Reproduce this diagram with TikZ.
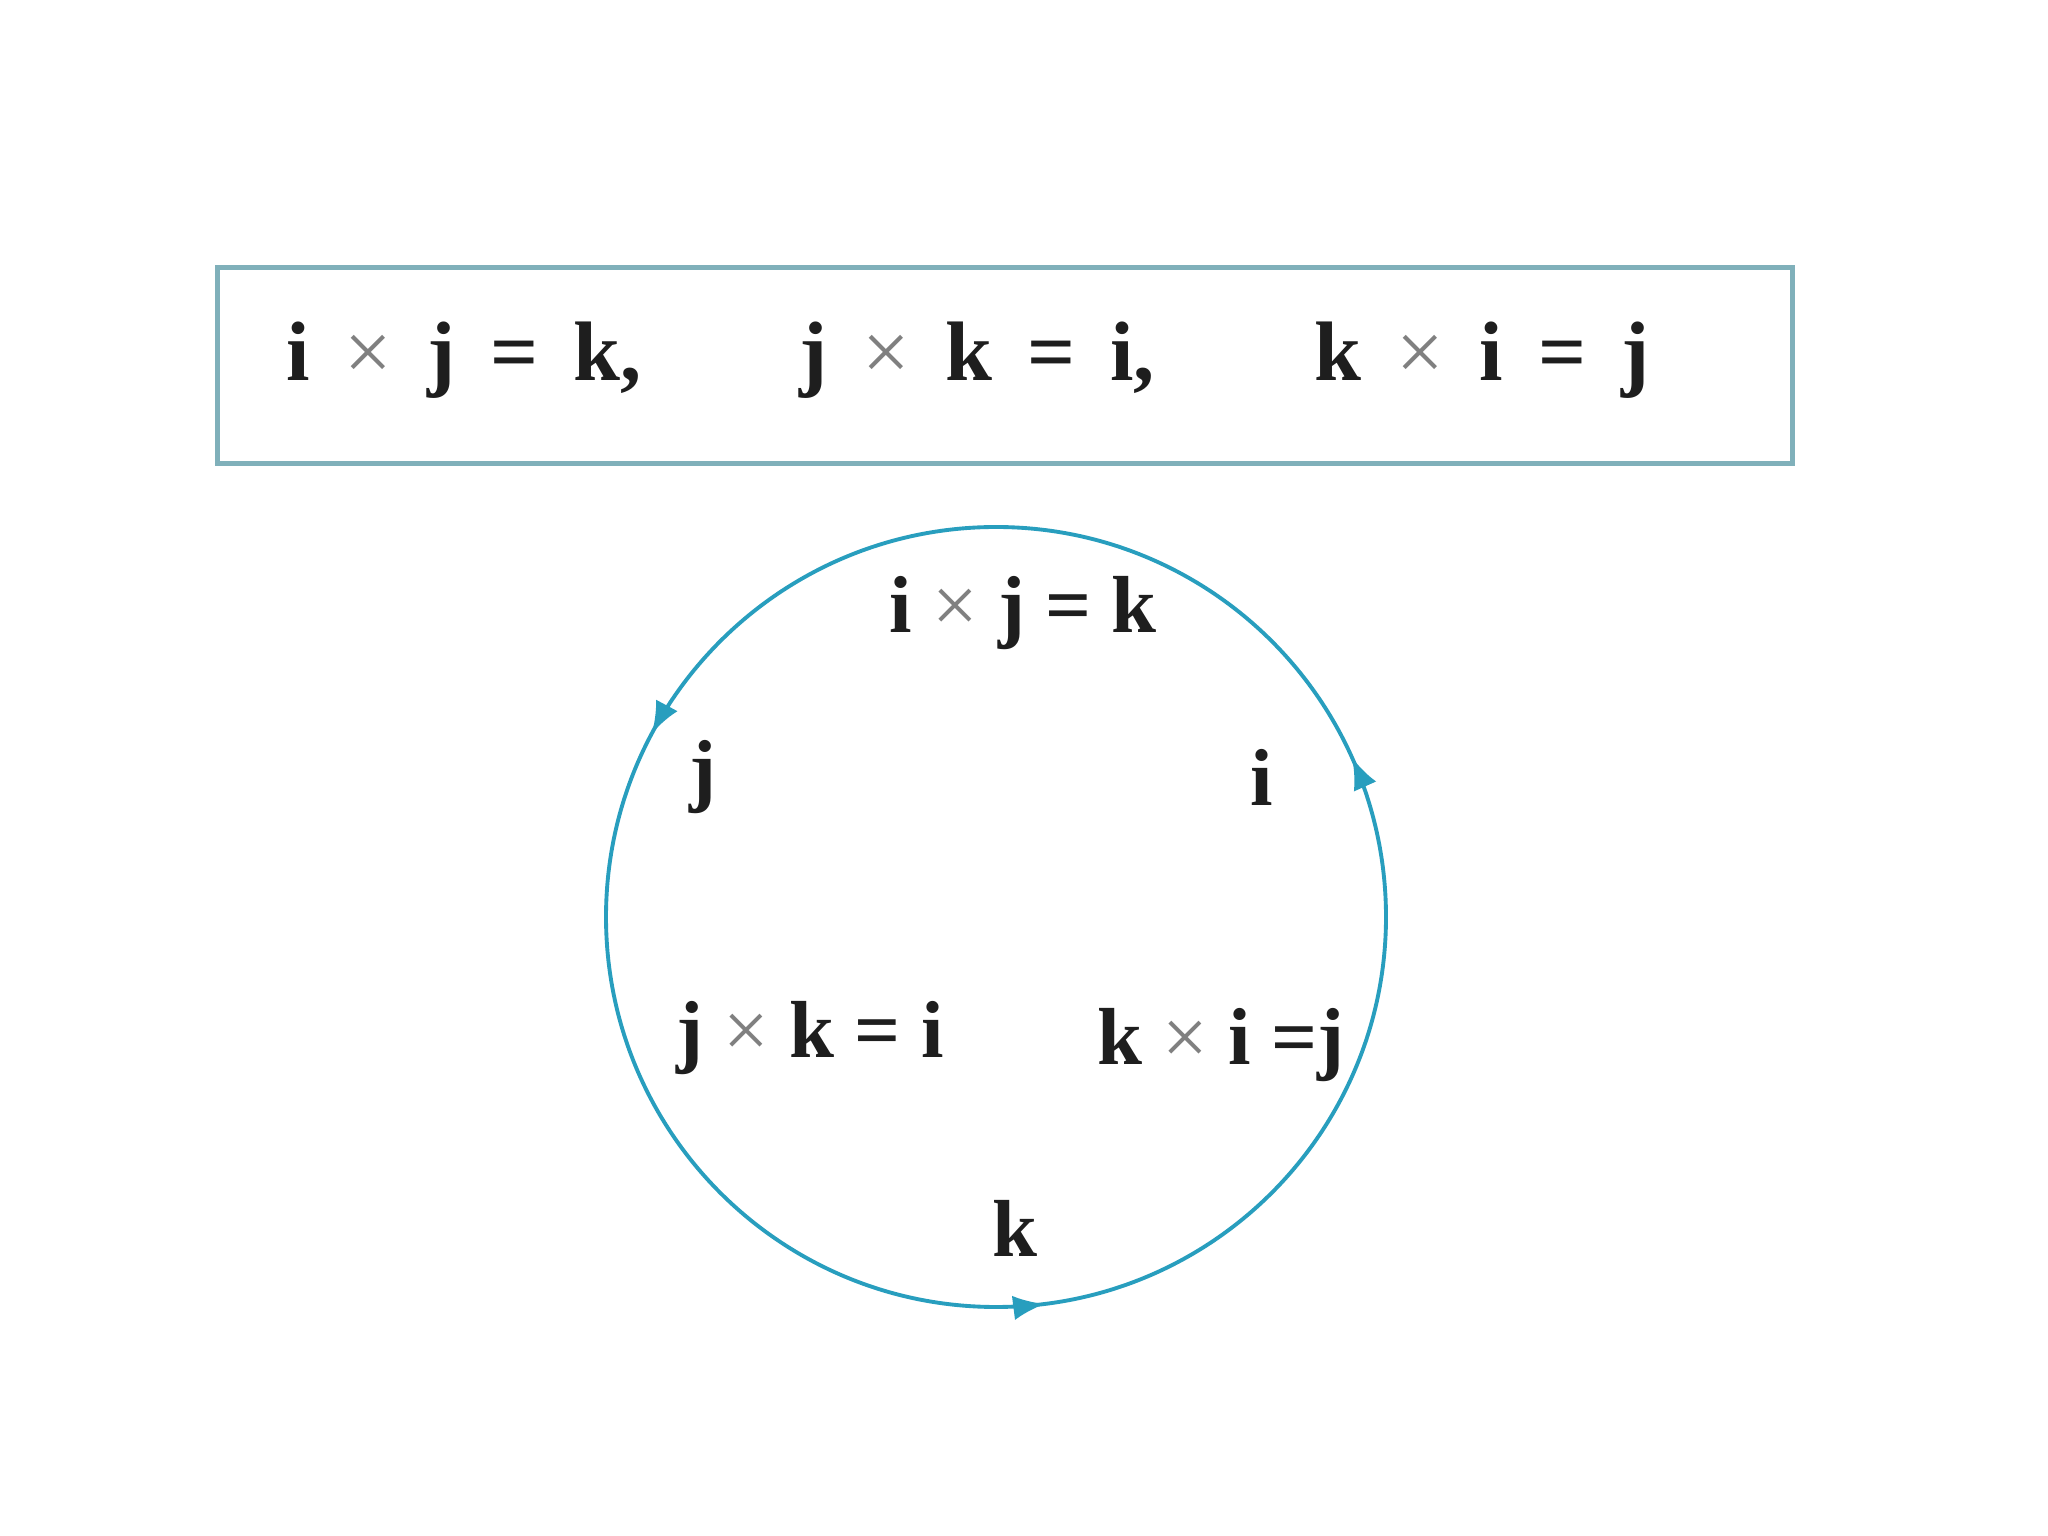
\documentclass[tikz,border=0pt]{standalone}
\usepackage{fontspec}
\setmainfont{Liberation Serif}
\usetikzlibrary{decorations.markings,arrows.meta}
\definecolor{circcol}{RGB}{40,158,190}
\definecolor{boxcol}{RGB}{128,176,186}
\definecolor{txt}{RGB}{30,30,30}
\newcommand{\tms}{{\mdseries\color{gray}×}}
\newcommand{\gp}{\hspace{10pt}}
\tikzset{
  lbl/.style={font=\fontsize{23}{27}\selectfont\bfseries, text=txt, inner sep=0pt},
  boxlbl/.style={font=\fontsize{24}{28}\selectfont\bfseries, text=txt, inner sep=0pt},
  eqbox/.style={draw=boxcol, line width=1.4pt, fill=white, minimum width=15.74cm, minimum height=1.95cm, inner sep=0pt},
  ring/.style={draw=circcol, line width=1.1pt},
  flow/.style={postaction={decorate}, decoration={markings,
     mark=at position 0.067 with {\arrow{Latex[length=9pt,width=7pt]}},
     mark=at position 0.422 with {\arrow{Latex[length=9pt,width=7pt]}},
     mark=at position 0.770 with {\arrow{Latex[length=9pt,width=7pt]}}}}
}
\begin{document}
\begin{tikzpicture}[x=0.01cm,y=0.01cm]
\useasboundingbox (0,0) rectangle (2048,1536);
\fill[white] (0,0) rectangle (2048,1536);
% top box
\node[eqbox] (box) at (1005,1170.5) {};
\node[boxlbl] (e1) at (464,1176) {i\gp\tms\gp j\gp=\gp k,};
\node[boxlbl] (e2) at (977,1176) {j\gp\tms\gp k\gp=\gp i,};
\node[boxlbl] (e3) at (1482,1176) {k\gp\tms\gp i\gp=\gp j};
% circle
\coordinate (cc) at (996,619);
\draw[ring, circcol, flow] (cc) ++(0:390) arc[start angle=0, end angle=360, radius=390];
\node[lbl] (c1) at (1023,923) {i \tms\ j = k};
\node[lbl] (cj) at (703,759) {j};
\node[lbl] (ci) at (1262,759) {i};
\node[lbl] (c2) at (810,498) {j \tms\ k = i};
\node[lbl] (c3) at (1221,491) {k \tms\ i =j};
\node[lbl] (ck) at (1015,308) {k};
\end{tikzpicture}
\end{document}
